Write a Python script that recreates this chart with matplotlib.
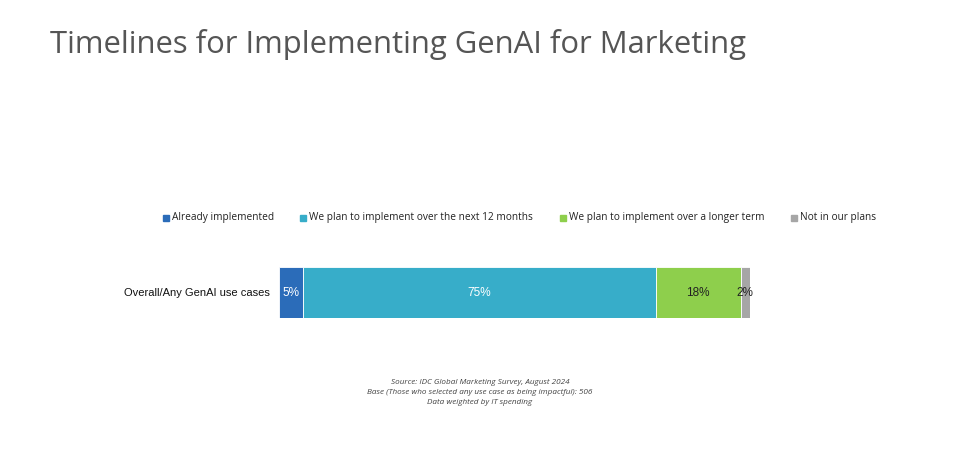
import matplotlib
matplotlib.use("Agg")
import matplotlib.pyplot as plt
from matplotlib.patches import Rectangle

categories = ["Overall/Any GenAI use cases"]
series_names = ["Already implemented", "We plan to implement over the next 12 months",
                "We plan to implement over a longer term", "Not in our plans"]
values = [5, 75, 18, 2]
colors = ["#2b6cb9", "#37adc9", "#8ecf4c", "#a6a6a6"]
label_colors = ["white", "white", "#222222", "#222222"]

fig = plt.figure(figsize=(9.56, 4.5), dpi=100)
fig.patch.set_facecolor("white")

ax = fig.add_axes([279/956, (450-318)/450, 471/956, 51/450])
left = 0
for v, c, lc in zip(values, colors, label_colors):
    ax.barh([0], [v], left=left, height=1.0, color=c, edgecolor="white", linewidth=0.6)
    ax.text(left + v/2, 0, f"{v}%", ha="center", va="center", color=lc,
            fontsize=8.5, family="Liberation Sans")
    left += v
ax.set_xlim(0, sum(values))
ax.set_ylim(-0.5, 0.5)
ax.axis("off")

fig.text(270/956, 1 - 293/450, categories[0], ha="right", va="center",
         fontsize=8, family="Liberation Sans", color="#111111")

# title
fig.text(50/956, 1 - 44/450, "Timelines for Implementing GenAI for Marketing",
         ha="left", va="center", fontsize=22.3, family="Open Sans", color="#555555")

# legend
leg_x = [163, 300, 560, 791]
for x, name, c in zip(leg_x, series_names, colors):
    fig.patches.append(Rectangle((x/956, 1 - 221/450), 6/956, 6/450,
                                 transform=fig.transFigure, color=c))
    fig.text((x + 9)/956, 1 - 217.5/450, name, ha="left", va="center",
             fontsize=7.3, family="Open Sans", color="#222222")

src = ["Source: IDC Global Marketing Survey, August 2024",
       "Base (Those who selected any use case as being impactful): 506",
       "Data weighted by IT spending"]
for i, s in enumerate(src):
    fig.text(480/956, 1 - (382 + 10*i)/450, s, ha="center", va="center",
             fontsize=5.9, family="Open Sans", style="italic", color="#444444")

fig.savefig("out.png", dpi=100)
